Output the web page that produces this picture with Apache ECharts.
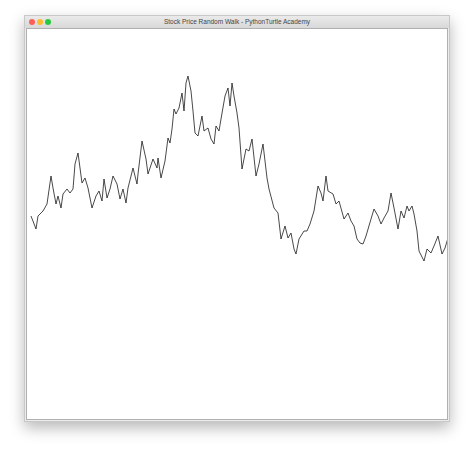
<!DOCTYPE html>
<html><head><meta charset="utf-8">
<script src="https://cdn.jsdelivr.net/npm/echarts@6/dist/echarts.min.js"></script>
<style>
html,body{margin:0;padding:0;background:#fff;width:474px;height:454px;overflow:hidden;font-family:"Liberation Sans",Arial,sans-serif}
#win{position:absolute;left:24px;top:15px;width:426px;height:407px;background:#ececec;border:1px solid #c8c8c8;box-sizing:border-box;box-shadow:0 6px 14px rgba(0,0,0,0.28)}
#bar{position:absolute;left:0;top:0;width:100%;height:12px;background:linear-gradient(#eaeaea,#d8d8d8);font-size:6.5px;color:#444;text-align:center;line-height:12px}
.dot{position:absolute;top:3px;width:6px;height:6px;border-radius:50%}
#content{position:absolute;left:1px;top:12px;width:422px;height:392px;background:#fff;border:1px solid #b0b0b0;box-sizing:border-box}
#chart{position:absolute;left:0;top:0;width:420px;height:390px}
</style></head><body>
<div id="win">
 <div id="bar"><span class="dot" style="left:4px;background:#fc5f57"></span><span class="dot" style="left:12px;background:#fdbc2e"></span><span class="dot" style="left:20px;background:#28c840"></span>Stock Price Random Walk - PythonTurtle Academy</div>
 <div id="content"><div id="chart"></div></div>
</div>
<script>
const days = [4,5,9,11,16,20,24,26,29,31,34,36,40,43,46,48,51,53,55,58,61,65,66,69,72,75,77,80,83,86,90,93,96,99,101,106,110,111,115,119,121,123,126,130,131,134,138,141,143,145,147,149,152,155,157,159,161,164,166,168,171,175,177,181,184,187,189,192,194,198,201,203,205,207,210,212,215,219,222,225,229,232,236,240,242,247,251,254,258,261,264,267,269,272,277,280,283,287,291,294,296,299,301,306,309,312,317,321,324,327,330,333,336,339,344,347,351,354,357,361,364,367,371,374,377,380,382,385,387,390,392,397,400,404,407,411,415,418,421];
const prices = [203,203,190,203,208,215,243,231,215,223,211,225,230,226,230,255,266,251,236,241,231,211,209,223,228,218,240,221,230,243,235,220,230,216,231,251,235,245,278,260,245,243,260,251,261,241,258,281,276,290,310,305,311,326,308,336,343,328,308,286,283,303,288,291,280,275,293,288,300,323,331,313,336,323,306,291,250,270,268,280,243,255,275,241,230,211,206,180,193,181,186,170,165,180,188,188,195,208,233,226,218,243,228,225,215,218,200,206,198,193,180,176,175,183,200,210,203,195,201,208,226,211,190,208,201,213,208,213,205,188,168,158,170,166,173,183,165,171,181];
const data = days.map((d,i)=>[d,prices[i]]);
const chart = echarts.init(document.getElementById('chart'));
chart.setOption({
  animation:false,
  grid:{left:0,right:0,top:0,bottom:0},
  xAxis:{type:'value',min:0,max:420,show:false},
  yAxis:{type:'value',min:0,max:390,show:false},
  series:[{type:'line',data:data,symbol:'none',lineStyle:{color:'#1a1a1a',width:0.8}}]
});
</script></body></html>
